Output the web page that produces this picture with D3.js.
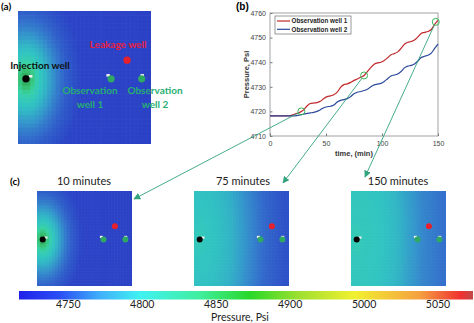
<!DOCTYPE html>
<html>
<head>
<meta charset="utf-8">
<script src="https://cdn.jsdelivr.net/npm/d3@7"></script>
<style>
  body { margin: 0; background: #fff; }
  svg { display: block; }
  text { font-family: Lato, "Open Sans", sans-serif; }
  .plotb text { font-family: Arial, "Liberation Sans", sans-serif; }
</style>
</head>
<body>
<div id="chart"></div>
<script>

const timeMin = [0, 3, 6, 9, 12, 15, 18, 21, 24, 27, 30, 33, 36, 39, 42, 45, 48, 51, 54, 57, 60,
    63, 66, 69, 72, 75, 78, 81, 84, 87, 90, 93, 96, 99, 102, 105, 108, 111, 114, 117, 120,
    123, 126, 129, 132, 135, 138, 141, 144, 147, 150];
const obsWell1 = [4718.2, 4718.2, 4718.2, 4718.2, 4718.2, 4718.2, 4718.3, 4718.7, 4719.2, 4719.7, 4720.6,
    4722.2, 4723.2, 4723.4, 4723.6, 4724.1, 4725.2, 4726.0, 4726.3, 4726.8, 4727.8,
    4729.8, 4730.9, 4731.2, 4731.8, 4732.6, 4733.2, 4733.9, 4734.6, 4736.2, 4737.8,
    4739.2, 4739.7, 4740.0, 4740.7, 4741.8, 4743.0, 4743.5, 4744.2, 4745.6, 4747.3,
    4748.1, 4748.4, 4749.0, 4750.3, 4751.7, 4752.1, 4752.5, 4753.3, 4755.4, 4757.0];
const obsWell2 = [4718.2, 4718.2, 4718.2, 4718.2, 4718.2, 4718.2, 4718.2, 4718.2, 4718.3, 4718.6, 4718.9,
    4719.2, 4719.4, 4719.6, 4720.0, 4720.7, 4721.5, 4721.9, 4722.1, 4722.6, 4723.8,
    4724.5, 4724.8, 4725.2, 4726.0, 4727.2, 4727.8, 4728.1, 4728.5, 4729.0, 4730.0,
    4730.8, 4731.1, 4731.4, 4732.2, 4733.3, 4734.4, 4734.8, 4735.2, 4736.2, 4737.7,
    4738.4, 4738.7, 4739.3, 4740.5, 4741.9, 4742.4, 4742.8, 4743.7, 4745.6, 4747.4];
const seriesNames = ["Observation well 1", "Observation well 2"];
const xTicks = [0, 50, 100, 150];
const yTicks = [4710, 4720, 4730, 4740, 4750, 4760];

// snapshot markers on well 1 curve
const markTime = [28, 84, 148];
const markPressure = [4720, 4734.6, 4756.4];
const snapLabels = ["10 minutes", "75 minutes", "150 minutes"];

// ---- pressure maps: radial profiles (distance from injector, as map fraction) ----
const profDist10 = [0, 0.04, 0.08, 0.12, 0.17, 0.23, 0.3, 0.42, 2];
const profP10 = [4900, 4860, 4810, 4790, 4770, 4752, 4737, 4722, 4718];
const profDist75 = [0, 0.05, 0.2, 0.35, 0.5, 0.7, 0.9, 2];
const profP75 = [4805, 4794, 4786, 4774, 4758, 4740, 4730, 4726];
const profDist150 = [0, 0.05, 0.25, 0.4, 0.55, 0.7, 0.9, 2];
const profP150 = [4808, 4797, 4791, 4781, 4766, 4754, 4745, 4740];

// wells: injection, leakage, obs 1, obs 2 (fractions of map)
const wellNames = ["Injection well", "Leakage well", "Observation well 1", "Observation well 2"];
const wellX = [0.06, 0.82, 0.70, 0.93];
const wellY = [0.51, 0.37, 0.51, 0.51];

// colour bar
const cbDomain = [4717, 5024];
const cbStopP = [4717, 4745, 4772, 4799, 4839, 4873, 4907, 4944, 4988, 5016, 5024];
const cbStopC = ["#2020e8", "#2a50f5", "#40b0fa", "#40f2f2", "#40eea0", "#28d828",
    "#a0e030", "#f2f030", "#f5a040", "#f03030", "#c04848"];
const cbTickValues = [4750, 4800, 4850, 4900, 4950, 5000];
const cbTickLabels = ["4750", "4800", "4850", "4900", "5000", "5050"];

// muted colours actually seen in the map images
const mapStopP = [4718, 4730, 4745, 4760, 4775, 4790, 4820, 4860, 4900];
const mapStopC = ["#2a3dc6", "#2c50c8", "#3270cc", "#3394cc", "#31b2c6", "#30c4c2",
    "#38d4a4", "#36c070", "#229648"];

const W = 474, H = 323;
const svg = d3.select("#chart").append("svg")
    .attr("width", W).attr("height", H);

const mapColor = d3.scaleLinear().domain(mapStopP).range(mapStopC).clamp(true);
const wellFill = ["#000", "#e8202c", "#2fa864", "#2fa864"];
const arrowCol = "#33a27e";

function drawMap(left, top, size, dist, pres, aspect, r) {
    let n = 32;
    let g = svg.append("g").attr("transform", `translate(${left},${top})`);
    let band = d3.scaleBand().domain(d3.range(n)).range([0, size]);
    let pos = d3.scaleLinear().domain([0, 1]).range([0, size]);
    let prof = d3.scaleLinear().domain(dist).range(pres).clamp(true);
    let cells = [];
    for (let i = 0; i < n; i++) for (let j = 0; j < n; j++) {
        let dx = (i + 0.5) / n - wellX[0], dy = ((j + 0.5) / n - wellY[0]) * aspect;
        cells.push({i, j, p: prof(Math.sqrt(dx * dx + dy * dy))});
    }
    g.selectAll("rect.cell")
        .data(cells)
        .join("rect")
        .attr("class", "cell")
        .attr("x", d => band(d.i))
        .attr("y", d => band(d.j))
        .attr("width", d => band.bandwidth() + (d.i < n - 1 ? 0.7 : 0))
        .attr("height", d => band.bandwidth() + (d.j < n - 1 ? 0.7 : 0))
        .attr("fill", d => mapColor(d.p));
    // faint grid
    let gl = g.append("g").attr("stroke", "rgba(255,255,255,0.045)").attr("stroke-width", 0.6);
    d3.range(1, n).forEach(i => {
        gl.append("line").attr("x1", band(i)).attr("x2", band(i)).attr("y1", 0).attr("y2", size);
        gl.append("line").attr("y1", band(i)).attr("y2", band(i)).attr("x1", 0).attr("x2", size);
    });
    // small white grid-block markers next to the wells
    let mk = [[0.035, -0.015], null, [-0.022, -0.022], [0.004, -0.022]];
    mk.forEach((o, k) => {
        if (!o) return;
        g.append("rect")
            .attr("x", pos(wellX[k] + o[0]) - r * 0.5)
            .attr("y", pos(wellY[k] + o[1]) - r * 0.5)
            .attr("width", r * 1.0).attr("height", r * 0.7)
            .attr("fill", "#f2f2f2");
    });
    g.selectAll("circle.well")
        .data(wellNames)
        .join("circle")
        .attr("class", "well")
        .attr("cx", (d, k) => pos(wellX[k]))
        .attr("cy", (d, k) => pos(wellY[k]))
        .attr("r", r)
        .attr("fill", (d, k) => wellFill[k]);
    return {g, pos};
}

// ---------- panel (a) ----------
svg.append("text").attr("x", 1).attr("y", 10).attr("font-size", 10)
    .attr("font-weight", "bold").text("(a)");
drawMap(18, 11, 133, profDist10, profP10, 0.6, 3.6);
svg.append("text").attr("x", 40).attr("y", 69).attr("text-anchor", "middle")
    .attr("font-size", 10).attr("font-weight", "bold").attr("fill", "#111").text("Injection well");
svg.append("text").attr("x", 118).attr("y", 48).attr("text-anchor", "middle")
    .attr("font-size", 10).attr("font-weight", "bold").attr("fill", "#ea1e3c").text("Leakage well");
[[90, "well 1"], [155, "well 2"]].forEach(d => {
    let t = svg.append("text").attr("x", d[0]).attr("text-anchor", "middle")
        .attr("font-size", 10).attr("font-weight", "bold").attr("fill", "#26ae72");
    t.append("tspan").attr("x", d[0]).attr("y", 94).text("Observation");
    t.append("tspan").attr("x", d[0]).attr("y", 108).text(d[1]);
});

// ---------- panel (b) ----------
const pb = {left: 270, top: 13, right: 438, bottom: 136};
const gb = svg.append("g").attr("class", "plotb");
const x = d3.scaleLinear().domain([0, 150]).range([pb.left, pb.right]);
const y = d3.scaleLinear().domain([4710, 4760]).range([pb.bottom, pb.top]);

gb.append("text").attr("x", 236).attr("y", 10).attr("font-size", 10)
    .attr("font-weight", "bold").attr("font-family", "Lato, sans-serif").text("(b)");

gb.append("g")
    .attr("transform", `translate(0,${pb.bottom})`)
    .call(d3.axisBottom(x).tickValues(xTicks).tickSizeInner(-2.5).tickSizeOuter(0).tickPadding(5))
    .call(a => a.select(".domain").remove());
gb.append("g")
    .attr("transform", `translate(${pb.left},0)`)
    .call(d3.axisLeft(y).tickValues(yTicks).tickFormat(d3.format("d"))
        .tickSizeInner(-2.5).tickSizeOuter(0).tickPadding(4))
    .call(a => a.select(".domain").remove());
gb.selectAll(".tick text").attr("font-size", 7).attr("fill", "#444");
gb.selectAll(".tick line").attr("stroke", "#777");

gb.append("rect")
    .attr("x", pb.left).attr("y", pb.top)
    .attr("width", pb.right - pb.left).attr("height", pb.bottom - pb.top)
    .attr("fill", "none").attr("stroke", "#8a8a8a").attr("stroke-width", 0.8);

const line = d3.line().x((d, i) => x(timeMin[i])).y(d => y(d)).curve(d3.curveMonotoneX);
const seriesCol = ["#c0282c", "#2c4a9c"];
[obsWell1, obsWell2].forEach((s, k) => {
    gb.append("path").datum(s)
        .attr("d", line)
        .attr("fill", "none")
        .attr("stroke", seriesCol[k])
        .attr("stroke-width", 1.2);
});

gb.append("text").attr("transform", `translate(249,${(pb.top + pb.bottom) / 2}) rotate(-90)`)
    .attr("text-anchor", "middle").attr("font-size", 7.5).attr("font-weight", "bold")
    .attr("fill", "#333").text("Pressure, Psi");
gb.append("text").attr("x", (pb.left + pb.right) / 2).attr("y", 156)
    .attr("text-anchor", "middle").attr("font-size", 7.5).attr("font-weight", "bold")
    .attr("fill", "#333").text("time, (min)");

// legend
gb.append("rect").attr("x", 275).attr("y", 16).attr("width", 76).attr("height", 18)
    .attr("fill", "#fff").attr("stroke", "#555").attr("stroke-width", 0.6);
seriesNames.forEach((nm, k) => {
    let yy = 21 + k * 8.3;
    gb.append("line").attr("x1", 277).attr("x2", 290).attr("y1", yy).attr("y2", yy)
        .attr("stroke", seriesCol[k]).attr("stroke-width", 1.2);
    gb.append("text").attr("x", 291.5).attr("y", yy + 2.3).attr("font-size", 6.3)
        .attr("font-weight", "bold").attr("fill", "#222").text(nm);
});

// ---------- panel (c) ----------
svg.append("text").attr("x", 10).attr("y", 185).attr("font-size", 10)
    .attr("font-weight", "bold").text("(c)");
const mapLeft = [37, 194, 351];
const mapTop = 191, mapSize = 95;
const profs = [[profDist10, profP10, 0.6], [profDist75, profP75, 0.35], [profDist150, profP150, 0.3]];
mapLeft.forEach((l, k) => {
    drawMap(l, mapTop, mapSize, profs[k][0], profs[k][1], profs[k][2], 3);
    svg.append("text").attr("x", l + (k === 0 ? 47 : k === 1 ? 49 : 47)).attr("y", 185)
        .attr("text-anchor", "middle").attr("font-size", 11).attr("fill", "#222")
        .text(snapLabels[k]);
});

// arrows from marked points to maps
svg.append("defs").append("marker")
    .attr("id", "ah").attr("viewBox", "0 0 10 10").attr("refX", 9).attr("refY", 5)
    .attr("markerWidth", 7).attr("markerHeight", 7).attr("orient", "auto")
    .attr("markerUnits", "userSpaceOnUse")
    .append("path").attr("d", "M0,0L10,5L0,10z").attr("fill", arrowCol);
const tipX = [mapLeft[0] + 97, mapLeft[1] + 89, mapLeft[2] + 14];
const tipY = [199, 183, 177];
markTime.forEach((t, k) => {
    let x0 = x(t), y0 = y(markPressure[k]);
    let dx = tipX[k] - x0, dy = tipY[k] - y0, L = Math.hypot(dx, dy);
    svg.append("line")
        .attr("x1", x0 + dx / L * 3.5).attr("y1", y0 + dy / L * 3.5)
        .attr("x2", tipX[k]).attr("y2", tipY[k])
        .attr("stroke", arrowCol).attr("stroke-width", 0.9)
        .attr("marker-end", "url(#ah)");
    svg.append("circle").attr("cx", x0).attr("cy", y0).attr("r", 3.5)
        .attr("fill", "none").attr("stroke", "#3bb55a").attr("stroke-width", 1);
});

// colour bar
const cb = d3.scaleLinear().domain(cbDomain).range([19, 473]);
const grad = svg.select("defs").append("linearGradient").attr("id", "cbg")
    .attr("x1", "0%").attr("x2", "100%");
grad.selectAll("stop").data(cbStopP).join("stop")
    .attr("offset", d => (cb(d) - 19) / (473 - 19))
    .attr("stop-color", (d, i) => cbStopC[i]);
svg.append("rect").attr("x", 19).attr("y", 291).attr("width", 454).attr("height", 8.5)
    .attr("fill", "url(#cbg)");
svg.append("g").attr("transform", "translate(0,299.5)")
    .call(d3.axisBottom(cb).tickValues(cbTickValues).tickFormat((d, i) => cbTickLabels[i])
        .tickSize(0).tickPadding(1.5))
    .call(a => a.select(".domain").remove())
    .selectAll("text").attr("font-size", 10.5).attr("fill", "#222")
    .attr("font-family", "Lato, sans-serif");
svg.append("text").attr("x", 240).attr("y", 321).attr("text-anchor", "middle")
    .attr("font-size", 10.5).attr("fill", "#222").text("Pressure, Psi");

</script>
</body>
</html>
